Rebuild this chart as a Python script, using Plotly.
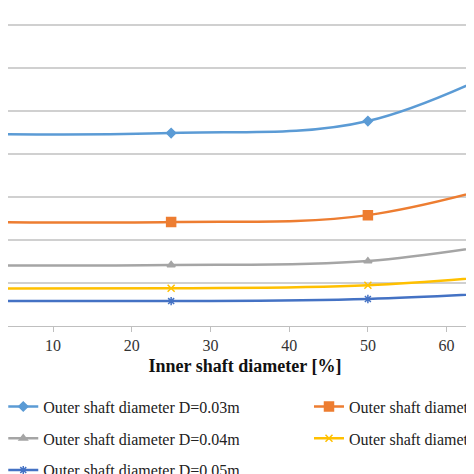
import plotly.graph_objects as go

inner_pct = [0, 25, 50, 75]
d030 = [4.47, 4.49, 4.77, 6.7]
d035 = [2.42, 2.42, 2.58, 3.7]
d040 = [1.41, 1.42, 1.51, 2.15]
d045 = [0.87, 0.88, 0.95, 1.3]
d050 = [0.58, 0.58, 0.63, 0.85]

series = [
    ("Outer shaft diameter D=0.03m", d030, "#5B9BD5", "diamond", "legend"),
    ("Outer shaft diameter D=0.035m", d035, "#ED7D31", "square", "legend2"),
    ("Outer shaft diameter D=0.04m", d040, "#A5A5A5", "triangle-up", "legend"),
    ("Outer shaft diameter D=0.045m", d045, "#FFC000", "x-thin", "legend2"),
    ("Outer shaft diameter D=0.05m", d050, "#4472C4", "asterisk", "legend"),
]

fig = go.Figure()
for name, vals, color, sym, leg in series:
    big = sym in ("square",)
    fig.add_trace(go.Scatter(
        x=inner_pct, y=vals, name=name, mode="lines+markers", legend=leg,
        legendgroup=name,
        line=dict(color=color, width=2.5, shape="spline", smoothing=1),
        marker=dict(symbol=sym, size=9 if big else 7, color=color,
                    line=dict(color=color, width=1.5)),
    ))

font = "Liberation Serif"
leg_style = dict(orientation="v", yanchor="top", y=-0.2, font=dict(size=16, family=font, color="#222"),
                 bgcolor="rgba(0,0,0,0)", tracegroupgap=8, xanchor="left")
fig.update_layout(
    width=474, height=474, margin=dict(l=0, r=0, t=0, b=156, autoexpand=False),
    plot_bgcolor="white", paper_bgcolor="white",
    font=dict(family=font),
    legend=dict(x=-0.01, **leg_style),
    legend2=dict(x=0.635, **leg_style),
    xaxis=dict(range=[4.27, 64.5], tickvals=[10, 20, 30, 40, 50, 60], showgrid=False,
               ticks="outside", ticklen=5, tickcolor="#bfbfbf", showline=True, linecolor="#bfbfbf",
               tickfont=dict(size=16, family=font, color="#333"),
               title=dict(text="<b>Inner shaft diameter [%]</b>", font=dict(size=18, family=font, color="#111"),
                          standoff=6)),
    yaxis=dict(range=[0, 7.4], dtick=1, showticklabels=False, gridcolor="#d0d0d0", gridwidth=1.5,
               zeroline=False),
)
fig.write_html("out.html")
